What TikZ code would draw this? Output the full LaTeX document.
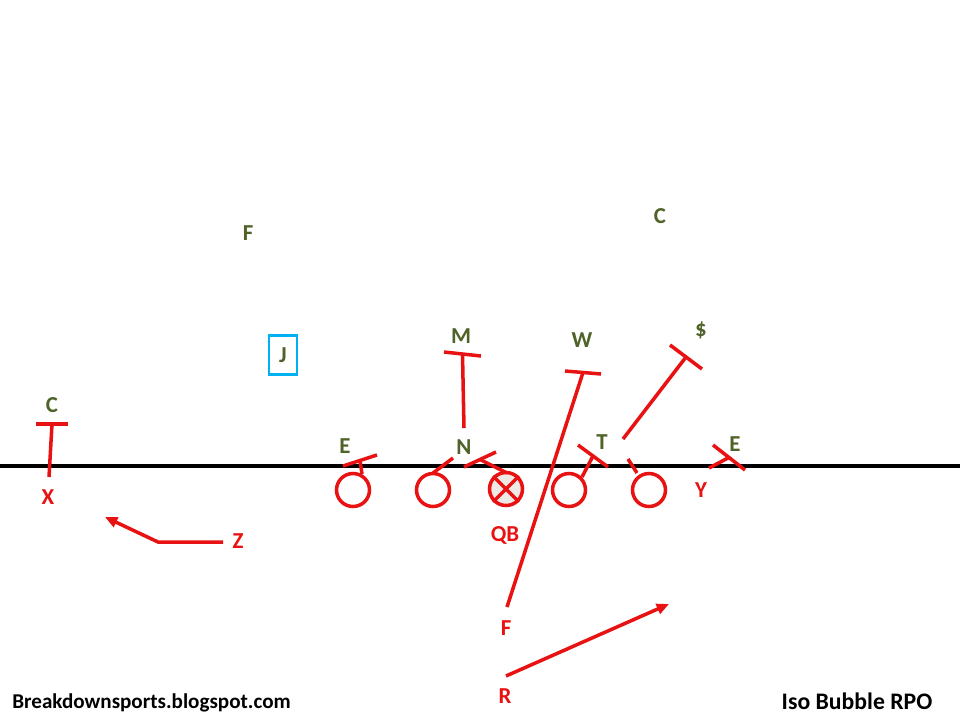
\documentclass[tikz,border=0pt]{standalone}
\usepackage{fontspec}
\setmainfont{Carlito}
\usetikzlibrary{calc,arrows.meta}

\definecolor{playred}{RGB}{232,18,18}
\definecolor{defgreen}{RGB}{79,98,40}
\definecolor{jblue}{RGB}{0,176,240}
\definecolor{cfill}{RGB}{238,233,228}

\tikzset{
olabel/.style={text=playred,font=\bfseries\fontsize{13}{15}\selectfont,inner sep=1pt},
dlabel/.style={text=defgreen,font=\bfseries\fontsize{13}{15}\selectfont,inner sep=1pt},
lineman/.style={draw=playred,line width=2pt,circle,minimum size=0.66cm,inner sep=0pt},
blk/.style={draw=playred,line width=2pt},
route/.style={blk,-{Triangle[length=7pt,width=6pt]}}
}

\begin{document}
\begin{tikzpicture}[x=0.02cm,y=-0.02cm]
\useasboundingbox (0,0) rectangle (960,720);

% line of scrimmage
\coordinate (los1) at (0,466);
\coordinate (los2) at (960,466);
\draw[line width=2pt] (los1) -- (los2);

% offense
\foreach \x/\n in {353/1,433/2,569/4,649/5}
{
\node (o\n) at (\x,490)[lineman]{};
}
\node (o3) at (506,489)[lineman,fill=cfill]{};
\draw[blk] (o3.45) -- (o3.225);
\draw[blk] (o3.135) -- (o3.315);

\node (xrec) at (48,497)[olabel]{X};
\node (zrec) at (238,541)[olabel]{Z};
\node (qb) at (505,535)[olabel]{QB};
\node (yrec) at (701,490)[olabel]{Y};
\node (fb) at (506,628)[olabel]{F};
\node (rb) at (505,696)[olabel]{R};

% defense
\node (fs) at (248,233)[dlabel]{F};
\node (cr) at (660,216)[dlabel]{C};
\node (jj) at (283,355)[dlabel,draw=jblue,line width=1.3pt,minimum width=0.56cm,minimum height=0.78cm]{J};
\node (mm) at (461,336)[dlabel]{M};
\node (ww) at (582,340)[dlabel]{W};
\node (dd) at (701,330)[dlabel]{\$};
\node (cl) at (52,405)[dlabel]{C};
\node (el) at (345,446)[dlabel]{E};
\node (nn) at (464,447)[dlabel]{N};
\node (tt) at (602,442)[dlabel]{T};
\node (er) at (735,444)[dlabel]{E};

% blocks: bar ends and end of stem
\coordinate (m1) at (444,352); \coordinate (m2) at (481,356); \coordinate (ms) at (464,428);
\coordinate (w1) at (565,371); \coordinate (w2) at (601,374); \coordinate (ws) at (507,607);
\coordinate (d1) at (670,345); \coordinate (d2) at (702,369); \coordinate (ds) at (623,439);
\coordinate (e1) at (343,466); \coordinate (e2) at (377,455); \coordinate (es) at (362,474);
\coordinate (n1) at (464,467); \coordinate (n2) at (496,452); \coordinate (ns) at (507,473);
\coordinate (g1) at (578,445); \coordinate (g2) at (608,467); \coordinate (gs) at (582,477);
\coordinate (y1) at (713,445); \coordinate (y2) at (745,470); \coordinate (ys) at (709,468);
\coordinate (x1) at (36,424); \coordinate (x2) at (68,424); \coordinate (xs) at (49,477);

\foreach \b in {m,w,d,e,n,g,y,x}
{
\draw[blk] (\b1) -- (\b2);
\draw[blk] ($(\b1)!.5!(\b2)$) -- (\b s);
}

% single blocks
\coordinate (lg1) at (433,473); \coordinate (lg2) at (453,458);
\coordinate (rt1) at (637,473); \coordinate (rt2) at (628,459);
\draw[blk] (lg1) -- (lg2);
\draw[blk] (rt1) -- (rt2);

% routes
\coordinate (z1) at (223,542); \coordinate (z2) at (158,542); \coordinate (z3) at (105,517);
\draw[route] (z1) -- (z2) -- (z3);
\coordinate (r1) at (506,676); \coordinate (r2) at (669,604);
\draw[route] (r1) -- (r2);

% footer
\node (site) at (12,703)[anchor=west,inner sep=0pt,font=\bfseries\fontsize{12}{14}\selectfont]{Breakdownsports.blogspot.com};
\node (title) at (857,701)[font=\bfseries\fontsize{13.5}{15}\selectfont]{Iso Bubble RPO};

\end{tikzpicture}
\end{document}
